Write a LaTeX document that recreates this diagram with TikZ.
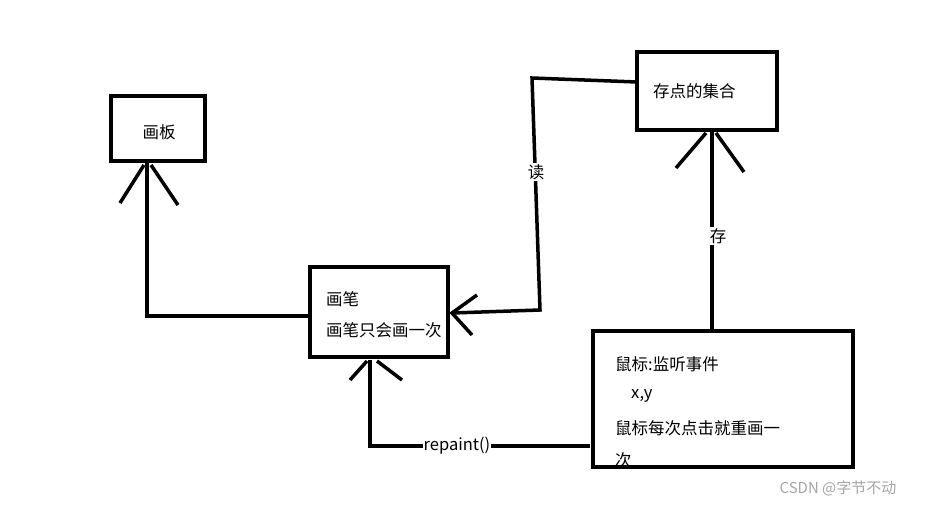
\documentclass[tikz,border=0pt]{standalone}
\usepackage{fontspec}
\setmainfont{Noto Sans CJK SC}
\begin{document}
\begin{tikzpicture}[x=1pt,y=-1pt,
  box/.style={draw,line width=3.5pt},
  wire/.style={line width=3.5pt},
  lbl/.style={font=\fontsize{16.5}{19}\selectfont,inner sep=1pt},
  wlbl/.style={lbl,fill=white}]
\useasboundingbox (0,0) rectangle (928,506);
\fill[white] (0,0) rectangle (928,506);
\draw[box] (111,96) rectangle (205,161);
\node[lbl] (huaban) at (159,132) {画板};
\coordinate (hbB) at (147,163);
\draw[box] (637,52) rectangle (777,130);
\node[lbl,anchor=west] (cun) at (652,91) {存点的集合};
\coordinate (cunL) at (637,82);
\coordinate (cunB) at (712,132);
\draw[box] (310,267) rectangle (448,357);
\node[lbl,anchor=west] (bi1) at (325,299) {画笔};
\node[lbl,anchor=west] (bi2) at (325,330) {画笔只会画一次};
\coordinate (biL) at (310,316);
\coordinate (biR) at (452,313);
\coordinate (biB) at (370,360);
\draw[box] (593,331) rectangle (853,467);
\node[lbl,anchor=west] (m1) at (614,364) {鼠标:监听事件};
\node[lbl,anchor=west] (m2) at (630,396) {x,y};
\node[lbl,anchor=west] (m3) at (614,428) {鼠标每次点击就重画一};
\node[lbl,anchor=west] (m4) at (614,460) {次};
\coordinate (mT) at (712,331);
\coordinate (mL) at (590,446);
% connectors
\draw[wire] (biL) -- (147,316) -- (hbB);
\draw[wire] (120,203) -- (144,165) (151,165) -- (178,205);
\draw[wire] (cunL) -- (532,78) -- (540,310) -- (biR);
\draw[wire] (477,295) -- (biR) -- (472,335);
\node[wlbl] (du) at (536,172) {读};
\draw[wire] (mT) -- (cunB);
\draw[wire] (676,168) -- (706,133) (716,133) -- (744,172);
\node[wlbl] (cunlbl) at (718,236) {存};
\draw[wire] (mL) -- (370,446) -- (biB);
\draw[wire] (350,380) -- (367,361) (377,361) -- (402,380);
\node[wlbl] (rp) at (457,446) {repaint()};
\node[font=\fontsize{15}{18}\selectfont,text=gray!70] (wm) at (838,488) {CSDN @字节不动};
\end{tikzpicture}
\end{document}
